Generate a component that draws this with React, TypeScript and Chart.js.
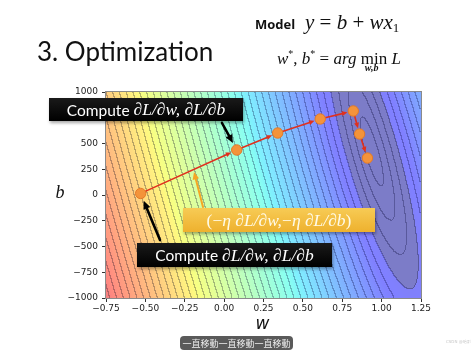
import React, { useEffect, useRef } from 'react';
import { Chart, registerables } from 'chart.js';
Chart.register(...registerables);

// ---- data ----
const W_STEPS = [-0.53, 0.08, 0.34, 0.61, 0.82, 0.86, 0.91];
const B_STEPS = [15, 437, 602, 738, 816, 592, 359];
const X_MIN = -0.75, X_MAX = 1.25, X_STEP = 0.25;
const Y_MIN = -1000, Y_MAX = 1000, Y_STEP = 250;
// loss surface minimum and shape (for background contour)
const LOSS_MIN_W = 0.94;
const LOSS_MIN_B = 420;
const LOSS_ELONG = 5.5;
const LOSS_FLOOR = 26;
const LEVEL_STEP = 6.5;

const JET_R = [[0, 0], [0.35, 0], [0.66, 1], [0.89, 1], [1, 0.5]];
const JET_G = [[0, 0], [0.125, 0], [0.375, 1], [0.64, 1], [0.91, 0], [1, 0]];
const JET_B = [[0, 0.5], [0.11, 1], [0.34, 1], [0.65, 0], [1, 0]];
function interp(pts: number[][], t: number) {
  for (let i = 1; i < pts.length; i++) {
    if (t <= pts[i][0]) {
      const [x0, y0] = pts[i - 1];
      const [x1, y1] = pts[i];
      return y0 + ((t - x0) / (x1 - x0)) * (y1 - y0);
    }
  }
  return pts[pts.length - 1][1];
}

const DIR_X = 0.275, DIR_Y = -0.962; // long axis (w, b) in scaled units
function lossR(w: number, b: number) {
  const U = (w - LOSS_MIN_W) * 157.5;
  const V = (b - LOSS_MIN_B) * 0.103;
  const t = U * DIR_X + V * DIR_Y;
  const s = U * (-DIR_Y) + V * DIR_X;
  return Math.sqrt(s * s + (t / LOSS_ELONG) * (t / LOSS_ELONG));
}

const contourPlugin = {
  id: 'contour',
  beforeDatasetsDraw(chart: any) {
    const { ctx, chartArea, scales } = chart;
    const x0 = Math.round(chartArea.left), y0 = Math.round(chartArea.top);
    const w = Math.round(chartArea.right) - x0, h = Math.round(chartArea.bottom) - y0;
    const off = document.createElement('canvas');
    off.width = w; off.height = h;
    const octx = off.getContext('2d')!;
    const img = octx.createImageData(w, h);
    const lev = new Int32Array(w * h);
    const rv = new Float32Array(w * h);
    for (let y = 0; y < h; y++) {
      const bv = scales.y.getValueForPixel(y0 + y + 0.5);
      for (let x = 0; x < w; x++) {
        const wv = scales.x.getValueForPixel(x0 + x + 0.5);
        const r = lossR(wv, bv);
        rv[y * w + x] = r;
        lev[y * w + x] = Math.floor(r / LEVEL_STEP);
      }
    }
    for (let y = 0; y < h; y++) {
      for (let x = 0; x < w; x++) {
        const i = y * w + x;
        const L = lev[i];
        const r0 = rv[i];
        const t = r0 < LOSS_FLOOR ? 0.0 : Math.min(1, 0.1 + (r0 - LOSS_FLOOR) * 0.003);
        let r = 255 * (0.5 + 0.5 * interp(JET_R, t));
        let g = 255 * (0.5 + 0.5 * interp(JET_G, t));
        let b = 255 * (0.5 + 0.5 * interp(JET_B, t));
        if (t === 0) { r = 124; g = 124; b = 200; }
        const edge = (x < w - 1 && lev[i + 1] !== L) || (y < h - 1 && lev[i + w] !== L);
        if (edge) { r *= 0.72; g *= 0.72; b *= 0.78; }
        img.data[i * 4] = r; img.data[i * 4 + 1] = g; img.data[i * 4 + 2] = b; img.data[i * 4 + 3] = 255;
      }
    }
    octx.putImageData(img, 0, 0);
    ctx.save();
    ctx.drawImage(off, x0, y0);
    ctx.strokeStyle = '#8a8a8a';
    ctx.lineWidth = 1;
    ctx.strokeRect(x0 - 0.5, y0 - 0.5, w + 1, h + 1);
    // red step arrows
    const pts = chart.getDatasetMeta(0).data;
    for (let k = 0; k < pts.length - 1; k++) {
      const a = pts[k], c = pts[k + 1];
      const ang = Math.atan2(c.y - a.y, c.x - a.x);
      const sx = a.x + Math.cos(ang) * 5, sy = a.y + Math.sin(ang) * 5;
      const ex = c.x - Math.cos(ang) * 6, ey = c.y - Math.sin(ang) * 6;
      arrow(ctx, sx, sy, ex, ey, '#e0301e', 1.6, 6);
    }
    ctx.restore();
  },
  afterDatasetsDraw(chart: any) {
    const { ctx } = chart;
    const pts = chart.getDatasetMeta(0).data;
    ctx.save();
    // black arrows from annotation boxes
    const tails = [[222, 123, 1], [160, 240, 0]];
    for (const [tx, ty, idx] of tails) {
      const p = pts[idx];
      const ang = Math.atan2(ty - p.y, tx - p.x);
      arrow(ctx, tx, ty, p.x + Math.cos(ang) * 8, p.y + Math.sin(ang) * 8, '#000', 2.6, 9);
    }
    // orange arrow
    arrow(ctx, 203, 207, 194, 172, '#f5a623', 2, 8);
    // axis titles
    ctx.fillStyle = '#111';
    ctx.textAlign = 'center';
    ctx.textBaseline = 'middle';
    ctx.font = 'oblique 17px "DejaVu Sans"';
    const ca = chart.chartArea;
    ctx.fillText('w', (ca.left + ca.right) / 2 - 1, 325);
    ctx.font = 'italic 18px "Liberation Serif"';
    ctx.fillText('b', 60, (ca.top + ca.bottom) / 2 - 2);
    ctx.restore();
  },
};

function arrow(ctx: CanvasRenderingContext2D, x1: number, y1: number, x2: number, y2: number, color: string, width: number, head: number) {
  const a = Math.atan2(y2 - y1, x2 - x1);
  ctx.strokeStyle = color;
  ctx.fillStyle = color;
  ctx.lineWidth = width;
  ctx.lineCap = 'round';
  ctx.beginPath();
  ctx.moveTo(x1, y1);
  ctx.lineTo(x2 - head * 0.7 * Math.cos(a), y2 - head * 0.7 * Math.sin(a));
  ctx.stroke();
  ctx.beginPath();
  ctx.moveTo(x2, y2);
  ctx.lineTo(x2 - head * Math.cos(a - 0.42), y2 - head * Math.sin(a - 0.42));
  ctx.lineTo(x2 - head * Math.cos(a + 0.42), y2 - head * Math.sin(a + 0.42));
  ctx.closePath();
  ctx.fill();
}

const fmtX = (v: number) => (v < 0 ? '\u2212' : '') + Math.abs(v).toFixed(2);
const fmtY = (v: number) => (v < 0 ? '\u2212' : '') + String(Math.abs(v));

export default function App() {
  const ref = useRef<HTMLCanvasElement>(null);
  useEffect(() => {
    const chart = new Chart(ref.current!, {
      type: 'scatter',
      data: {
        datasets: [{
          data: W_STEPS.map((w, i) => ({ x: w, y: B_STEPS[i] })),
          pointRadius: 5.2,
          pointHoverRadius: 5.2,
          pointBackgroundColor: '#f4933a',
          pointBorderColor: '#e47a28',
          pointBorderWidth: 1,
        }],
      },
      options: {
        animation: false,
        responsive: false,
        events: [],
        layout: { padding: { left: 0, top: 92, right: 53, bottom: 0 } },
        plugins: { legend: { display: false }, tooltip: { enabled: false } },
        scales: {
          x: {
            type: 'linear', min: X_MIN, max: X_MAX,
            ticks: { stepSize: X_STEP, callback: (v: any) => fmtX(Number(v)), font: { family: 'DejaVu Sans', size: 9 }, color: '#222', padding: 1, maxRotation: 0, autoSkip: false },
            grid: { drawOnChartArea: false, drawTicks: true, tickLength: 4, color: '#333' },
            border: { display: false },
            afterFit: (s: any) => { s.height = 57; },
          },
          y: {
            type: 'linear', min: Y_MIN, max: Y_MAX,
            ticks: { stepSize: Y_STEP, callback: (v: any) => fmtY(Number(v)), font: { family: 'DejaVu Sans', size: 9 }, color: '#222', padding: 4, autoSkip: false },
            grid: { drawOnChartArea: false, drawTicks: true, tickLength: 4, color: '#333' },
            border: { display: false },
            afterFit: (s: any) => { s.width = 106; },
          },
        },
      },
      plugins: [contourPlugin],
    } as any);
    return () => chart.destroy();
  }, []);

  const abs = (o: React.CSSProperties): React.CSSProperties => ({ position: 'absolute', whiteSpace: 'nowrap', lineHeight: 1, ...o });
  const math: React.CSSProperties = { fontFamily: '"Liberation Serif"', fontStyle: 'italic' };
  const up: React.CSSProperties = { fontFamily: '"Liberation Serif"', fontStyle: 'normal' };
  const boxBase: React.CSSProperties = {
    position: 'absolute', display: 'flex', alignItems: 'center', justifyContent: 'center',
    color: '#fff', whiteSpace: 'nowrap', boxShadow: '1px 2px 3px rgba(0,0,0,0.35)',
  };
  const grad = (
    <>
      <span style={{ fontFamily: 'Lato', fontSize: 15.5 }}>Compute&nbsp;</span>
      <span style={{ ...math, fontSize: 17.5 }}>∂L/∂w, ∂L/∂b</span>
    </>
  );
  return (
    <div style={{ position: 'fixed', left: 0, top: 0, width: 474, height: 355, background: '#fff', overflow: 'hidden' }}>
      <canvas ref={ref} width={474} height={355} style={{ position: 'absolute', left: 0, top: 0 }} />
      <div style={abs({ left: 37, top: 38, fontFamily: 'Lato', fontSize: 26, color: '#111' })}>3. Optimization</div>
      <div style={abs({ left: 255, top: 18, fontFamily: '"Open Sans"', fontWeight: 700, fontSize: 13, color: '#111' })}>Model</div>
      <div style={abs({ left: 305, top: 12, fontSize: 21, color: '#111' })}>
        <span style={math}>y</span><span style={up}> = </span><span style={math}>b</span><span style={up}> + </span><span style={math}>wx</span><span style={{ ...up, fontSize: 13, verticalAlign: -3 }}>1</span>
      </div>
      <div style={abs({ left: 277, top: 49, fontSize: 17, color: '#111' })}>
        <span style={math}>w</span><span style={up}><sup style={{ fontSize: 10 }}>*</sup>, </span><span style={math}>b</span><span style={up}><sup style={{ fontSize: 10 }}>*</sup> = </span><span style={math}>arg </span>
        <span style={{ ...up, position: 'relative' }}>min<span style={{ ...math, fontWeight: 700, fontSize: 10, position: 'absolute', left: 4, top: 14 }}>w,b</span></span>
        <span style={math}> L</span>
      </div>
      <div style={{ ...boxBase, left: 49, top: 98, width: 194, height: 23, background: 'linear-gradient(#1a1a1a, #000)' }}>{grad}</div>
      <div style={{ ...boxBase, left: 137, top: 243, width: 195, height: 24, background: 'linear-gradient(#1a1a1a, #000)' }}>{grad}</div>
      <div style={{ ...boxBase, left: 183, top: 208, width: 192, height: 24, background: 'linear-gradient(#f7cb55, #eeb12e)', color: '#fffbe8', fontSize: 17.5 }}>
        <span style={up}>(−</span><span style={math}>η ∂L/∂w, </span><span style={up}>−</span><span style={math}>η ∂L/∂b</span><span style={up}>)</span>
      </div>
      <div style={{ ...boxBase, left: 180, top: 336, width: 113, height: 14, borderRadius: 4, background: '#5a5a5a', boxShadow: 'none', fontFamily: '"Noto Sans CJK TC"', fontSize: 9, color: '#eee' }}>一直移動一直移動一直移動</div>
      <div style={abs({ left: 446, top: 340, fontFamily: '"DejaVu Sans"', fontSize: 4, color: '#c8c8c8' })}>CSDN @暗影</div>
    </div>
  );
}
